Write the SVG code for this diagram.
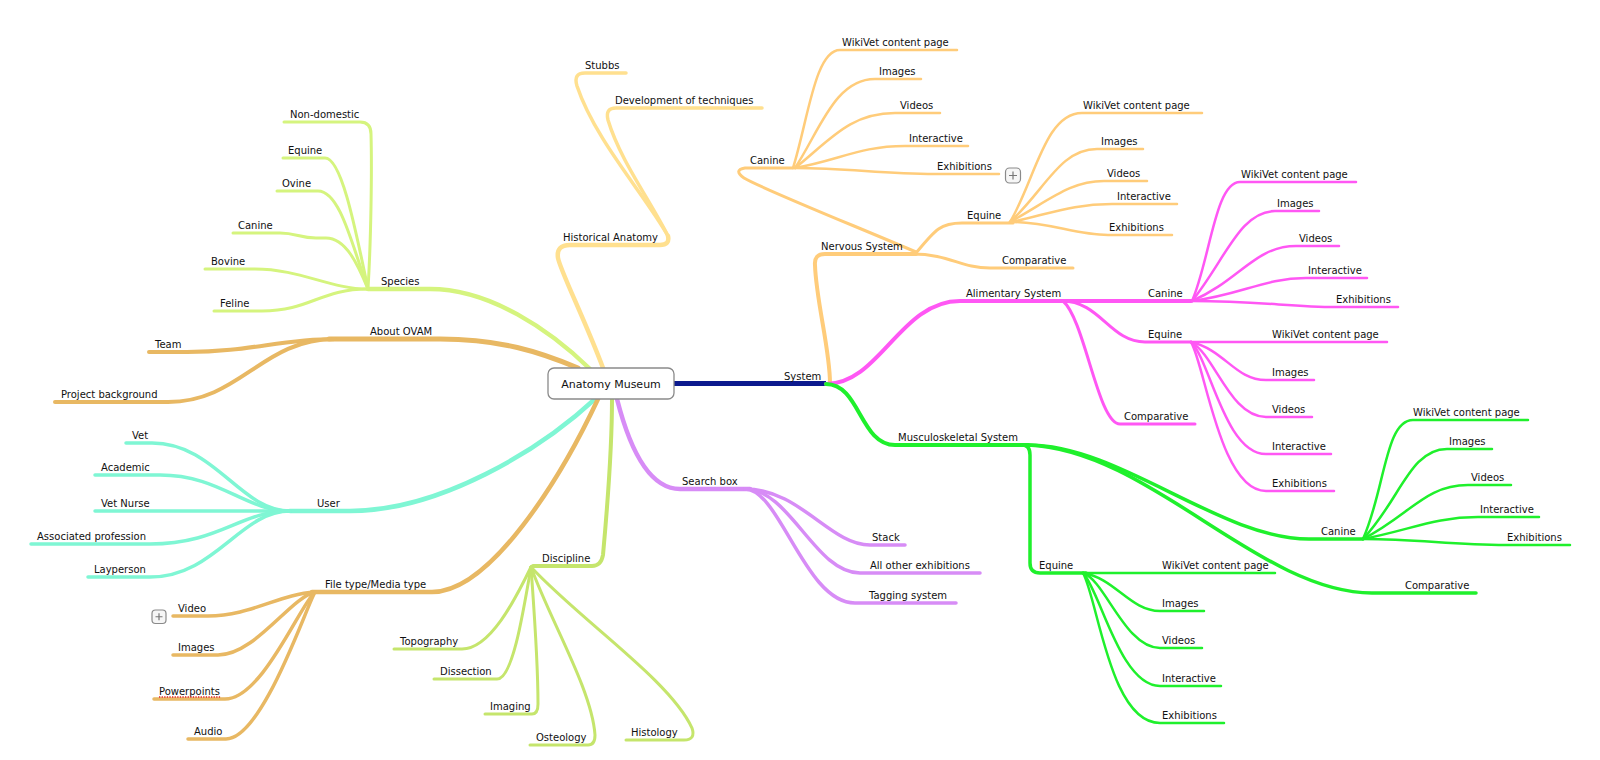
<svg xmlns="http://www.w3.org/2000/svg" width="1600" height="760" viewBox="0 0 1600 760">
<style>
.t{font-family:"DejaVu Sans",Verdana,sans-serif;font-size:10px;fill:#111}
.ct{font-family:"DejaVu Sans",Verdana,sans-serif;font-size:11px;fill:#111;text-anchor:middle}
.c{fill:none;stroke-linecap:round;stroke-linejoin:round}
.sp{stroke:#d5f47e}.ab{stroke:#e8b863}.us{stroke:#7ff6d4}.ft{stroke:#e8b863}.di{stroke:#c5e56c}
.se{stroke:#d78cf6}.hi{stroke:#ffe08f}.ns{stroke:#ffcc7a}.al{stroke:#ff57f4}.mu{stroke:#1ff02c}.sy{stroke:#0c1a8e}
.w5{stroke-width:5}.w45{stroke-width:4.5}.w4{stroke-width:4}.w35{stroke-width:3.5}.w3{stroke-width:3}.w25{stroke-width:2.5}
.plus rect{fill:#f6f6f6;stroke:#8a8a8a;stroke-width:1.2}
.plus path{stroke:#777;stroke-width:1.2;fill:none}
</style>
<rect width="1600" height="760" fill="#ffffff"/>
<g id="connectors">
<!-- Species -->
<path class="c sp w45" d="M368,289 L430,289 C490,289 550,330 590,369"/>
<path class="c sp w3" d="M284,122 L360,122 Q371,122 371,134 C372,170 371,240 368,289"/>
<path class="c sp w3" d="M283,158 L325,158 C342,158 356,232 368,289"/>
<path class="c sp w3" d="M277,191 L318,191 C340,191 352,245 368,289"/>
<path class="c sp w3" d="M233,233 L280,233 C296,233 300,238 316,238 L326,238 C346,238 358,265 368,289"/>
<path class="c sp w3" d="M205,269 L255,269 C300,269 330,289 368,289"/>
<path class="c sp w3" d="M214,311 L262,311 C310,311 320,289 368,289"/>
<!-- About OVAM -->
<path class="c ab w5" d="M329,339 L440,339 C500,339 540,352 578,368"/>
<path class="c ab w4" d="M149,352 L187,352 C250,352 280,339 335,339"/>
<path class="c ab w4" d="M55,402 L168,402 C240,402 262,339 335,339"/>
<!-- User -->
<path class="c us w45" d="M290,511 L350,511 C440,511 540,450 595,399"/>
<path class="c us w35" d="M126,443 L152,443 C215,443 240,511 290,511"/>
<path class="c us w35" d="M95,475 L160,475 C220,475 245,511 290,511"/>
<path class="c us w35" d="M95,511 L290,511"/>
<path class="c us w35" d="M31,544 L150,544 C220,544 240,511 290,511"/>
<path class="c us w35" d="M88,577 L150,577 C215,577 240,511 290,511"/>
<!-- File type -->
<path class="c ft w45" d="M312,592 L432,592 C490,592 560,480 598,399"/>
<path class="c ft w35" d="M173,616 L208,616 C250,616 280,594 315,592"/>
<path class="c ft w35" d="M173,655 L218,655 C255,655 290,598 315,592"/>
<path class="c ft w35" d="M154,699 L225,699 C262,699 300,605 315,592"/>
<path class="c ft w35" d="M188,739 L226,739 C262,739 305,610 315,592"/>
<!-- Discipline -->
<path class="c di w4" d="M533,566 L592,566 Q601,566 603,555 C608,500 612,450 612,399"/>
<path class="c di w3" d="M394,649 L462,649 C490,649 515,600 531,567"/>
<path class="c di w3" d="M434,679 L497,679 C512,679 522,620 531,567"/>
<path class="c di w3" d="M485,714 L532,714 Q538,714 538,704 C538,660 534,610 531,567"/>
<path class="c di w3" d="M530,745 L588,745 Q595,745 595,735 C592,690 550,620 531,567"/>
<path class="c di w3" d="M626,740 L684,740 Q696,740 692,728 C670,680 580,620 531,567"/>
<!-- Search box -->
<path class="c se w45" d="M617,399 C630,450 650,489 680,489 L750,489"/>
<path class="c se w35" d="M745,489 C800,489 830,545 870,545 L905,545"/>
<path class="c se w35" d="M745,489 C790,489 815,573 860,573 L980,573"/>
<path class="c se w35" d="M745,489 C780,489 805,603 855,603 L956,603"/>
<!-- Historical -->
<path class="c hi w45" d="M603,368 C585,320 560,270 558,258 Q556,245 570,245 L660,245 Q670,245 668,236"/>
<path class="c hi w35" d="M626,73 L585,73 Q573,73 577,86 C595,140 645,195 668,236"/>
<path class="c hi w35" d="M762,108 L616,108 Q605,108 608,120 C620,160 650,200 668,236"/>
<!-- System -->
<path class="c sy w5" d="M674,383.5 L826,383.5" style="stroke-linecap:butt"/>
<!-- Nervous -->
<path class="c ns w4" d="M830,383 C830,350 816,300 815,265 Q814,254 825,254 L916,254"/>
<path class="c ns w3" d="M916,253 C935,230 940,223 962,223 L1013,223"/>
<path class="c ns w3" d="M912,254 C950,254 960,268 990,268 L1073,268"/>
<path class="c ns w3" d="M916,252 C860,228 760,188 744,178 Q733,170 745,168 L793,168"/>
<path class="c ns w25" d="M793,168 C808,120 815,50 840,50 L957,50"/>
<path class="c ns w25" d="M795,168 C820,130 835,79 875,79 L921,79"/>
<path class="c ns w25" d="M795,168 C830,140 850,113 895,113 L940,113"/>
<path class="c ns w25" d="M795,168 C840,160 860,146 905,146 L968,146"/>
<path class="c ns w25" d="M795,168 C850,168 880,174 935,174 L999,174"/>
<path class="c ns w25" d="M1010,222 C1035,180 1045,113 1082,113 L1202,113"/>
<path class="c ns w25" d="M1010,222 C1045,190 1060,149 1097,149 L1143,149"/>
<path class="c ns w25" d="M1010,222 C1050,200 1070,181 1104,181 L1147,181"/>
<path class="c ns w25" d="M1012,222 C1055,212 1075,204 1112,204 L1177,204"/>
<path class="c ns w25" d="M1012,222 C1050,222 1075,235 1108,235 L1172,235"/>
<!-- Alimentary -->
<path class="c al w4" d="M826,384 C880,384 900,301 960,301 L1191,301"/>
<path class="c al w3" d="M1062,301 C1100,301 1110,342 1145,342 L1191,342"/>
<path class="c al w3" d="M1063,301 C1085,320 1098,424 1120,424 L1195,424"/>
<path class="c al w25" d="M1192,301 C1210,260 1215,182 1240,182 L1356,182"/>
<path class="c al w25" d="M1192,301 C1225,260 1240,211 1275,211 L1319,211"/>
<path class="c al w25" d="M1192,301 C1240,280 1255,246 1296,246 L1339,246"/>
<path class="c al w25" d="M1192,301 C1240,295 1265,278 1306,278 L1367,278"/>
<path class="c al w25" d="M1192,301 C1260,301 1290,307 1336,307 L1398,307"/>
<path class="c al w25" d="M1191,342 L1387,342"/>
<path class="c al w25" d="M1191,342 C1225,350 1235,380 1266,380 L1314,380"/>
<path class="c al w25" d="M1191,342 C1215,355 1230,417 1266,417 L1312,417"/>
<path class="c al w25" d="M1191,342 C1210,360 1225,454 1266,454 L1331,454"/>
<path class="c al w25" d="M1191,342 C1205,365 1220,491 1266,491 L1334,491"/>
<!-- Musculoskeletal -->
<path class="c mu w4" d="M826,384 C860,384 860,445 895,445 L1028,445"/>
<path class="c mu w35" d="M1022,445 Q1030,445 1030,455 L1030,563 Q1030,573 1040,573 L1086,573"/>
<path class="c mu w35" d="M1028,445 C1120,445 1220,539 1309,539 L1363,539"/>
<path class="c mu w35" d="M1028,445 C1150,450 1260,593 1372,593 L1476,593"/>
<path class="c mu w25" d="M1363,539 C1385,490 1385,420 1413,420 L1528,420"/>
<path class="c mu w25" d="M1363,539 C1400,500 1410,449 1447,449 L1492,449"/>
<path class="c mu w25" d="M1363,539 C1410,515 1425,485 1468,485 L1511,485"/>
<path class="c mu w25" d="M1363,539 C1410,530 1435,517 1478,517 L1539,517"/>
<path class="c mu w25" d="M1363,539 C1420,539 1450,545 1506,545 L1570,545"/>
<path class="c mu w25" d="M1083,573 L1275,573"/>
<path class="c mu w25" d="M1083,573 C1115,578 1130,611 1160,611 L1204,611"/>
<path class="c mu w25" d="M1083,573 C1105,580 1125,648 1160,648 L1202,648"/>
<path class="c mu w25" d="M1083,573 C1100,590 1120,686 1160,686 L1221,686"/>
<path class="c mu w25" d="M1083,573 C1098,600 1110,723 1160,723 L1224,723"/>
</g>

<g id="node-center">
<rect x="548" y="368" width="126" height="31" rx="6" fill="#ffffff" stroke="#8a8a8a" stroke-width="1.3"/>
<text class="ct" x="611" y="388">Anatomy Museum</text>
</g>

<g id="node-species">
<text class="t" x="381" y="285">Species</text>
<text class="t" x="290" y="118">Non-domestic</text>
<text class="t" x="288" y="154">Equine</text>
<text class="t" x="282" y="187">Ovine</text>
<text class="t" x="238" y="229">Canine</text>
<text class="t" x="211" y="265">Bovine</text>
<text class="t" x="220" y="307">Feline</text>
</g>

<g id="node-about">
<text class="t" x="370" y="335">About OVAM</text>
<text class="t" x="155" y="348">Team</text>
<text class="t" x="61" y="398">Project background</text>
</g>

<g id="node-user">
<text class="t" x="317" y="507">User</text>
<text class="t" x="132" y="439">Vet</text>
<text class="t" x="101" y="471">Academic</text>
<text class="t" x="101" y="507">Vet Nurse</text>
<text class="t" x="37" y="540">Associated profession</text>
<text class="t" x="94" y="573">Layperson</text>
</g>

<g id="node-filetype">
<text class="t" x="325" y="588">File type/Media type</text>
<text class="t" x="178" y="612">Video</text>
<g class="plus"><rect x="152" y="610" width="14" height="13.5" rx="3.5"/><path d="M155.5,616.75 H162.5 M159,613.25 V620.25"/></g>
<text class="t" x="178" y="651">Images</text>
<text class="t" x="159" y="695">Powerpoints</text>
<path d="M159,697 L221,697" stroke="#e0201e" stroke-width="1.3" stroke-dasharray="1.3 1.3" fill="none"/>
<text class="t" x="194" y="735">Audio</text>
</g>

<g id="node-discipline">
<text class="t" x="542" y="562">Discipline</text>
<text class="t" x="400" y="645">Topography</text>
<text class="t" x="440" y="675">Dissection</text>
<text class="t" x="490" y="710">Imaging</text>
<text class="t" x="536" y="741">Osteology</text>
<text class="t" x="631" y="736">Histology</text>
</g>

<g id="node-search">
<text class="t" x="682" y="485">Search box</text>
<text class="t" x="872" y="541">Stack</text>
<text class="t" x="870" y="569">All other exhibitions</text>
<text class="t" x="869" y="599">Tagging system</text>
</g>

<g id="node-historical">
<text class="t" x="563" y="241">Historical Anatomy</text>
<text class="t" x="585" y="69">Stubbs</text>
<text class="t" x="615" y="104">Development of techniques</text>
</g>

<g id="node-system">
<text class="t" x="784" y="379.5">System</text>
</g>

<g id="node-nervous">
<text class="t" x="821" y="250">Nervous System</text>
<text class="t" x="750" y="164">Canine</text>
<text class="t" x="842" y="46">WikiVet content page</text>
<text class="t" x="879" y="75">Images</text>
<text class="t" x="900" y="109">Videos</text>
<text class="t" x="909" y="142">Interactive</text>
<text class="t" x="937" y="170">Exhibitions</text>
<g class="plus"><rect x="1005.5" y="168" width="15" height="15" rx="4"/><path d="M1009,175.5 H1017 M1013,171.5 V179.5"/></g>
<text class="t" x="967" y="219">Equine</text>
<text class="t" x="1083" y="109">WikiVet content page</text>
<text class="t" x="1101" y="145">Images</text>
<text class="t" x="1107" y="177">Videos</text>
<text class="t" x="1117" y="200">Interactive</text>
<text class="t" x="1109" y="231">Exhibitions</text>
<text class="t" x="1002" y="264">Comparative</text>
</g>

<g id="node-alimentary">
<text class="t" x="966" y="297">Alimentary System</text>
<text class="t" x="1148" y="297">Canine</text>
<text class="t" x="1241" y="178">WikiVet content page</text>
<text class="t" x="1277" y="207">Images</text>
<text class="t" x="1299" y="242">Videos</text>
<text class="t" x="1308" y="274">Interactive</text>
<text class="t" x="1336" y="303">Exhibitions</text>
<text class="t" x="1148" y="338">Equine</text>
<text class="t" x="1272" y="338">WikiVet content page</text>
<text class="t" x="1272" y="376">Images</text>
<text class="t" x="1272" y="413">Videos</text>
<text class="t" x="1272" y="450">Interactive</text>
<text class="t" x="1272" y="487">Exhibitions</text>
<text class="t" x="1124" y="420">Comparative</text>
</g>

<g id="node-musculoskeletal">
<text class="t" x="898" y="441">Musculoskeletal System</text>
<text class="t" x="1321" y="535">Canine</text>
<text class="t" x="1413" y="416">WikiVet content page</text>
<text class="t" x="1449" y="445">Images</text>
<text class="t" x="1471" y="481">Videos</text>
<text class="t" x="1480" y="513">Interactive</text>
<text class="t" x="1507" y="541">Exhibitions</text>
<text class="t" x="1039" y="569">Equine</text>
<text class="t" x="1162" y="569">WikiVet content page</text>
<text class="t" x="1162" y="607">Images</text>
<text class="t" x="1162" y="644">Videos</text>
<text class="t" x="1162" y="682">Interactive</text>
<text class="t" x="1162" y="719">Exhibitions</text>
<text class="t" x="1405" y="589">Comparative</text>
</g>
</svg>
